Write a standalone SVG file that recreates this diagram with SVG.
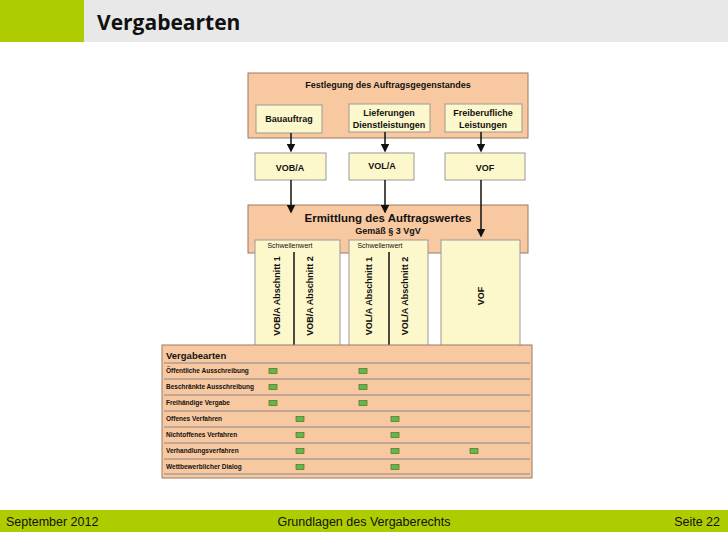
<svg xmlns="http://www.w3.org/2000/svg" width="728" height="546" viewBox="0 0 728 546">
<style>
text{font-family:"Liberation Sans",Arial,sans-serif;font-weight:bold;fill:#111}
.o{fill:#f8c9a0;stroke:#9a7a60;stroke-width:1}
.y{fill:#fdf8cc;stroke:#999;stroke-width:1}
.s{font-size:9px;text-anchor:middle}
.r{font-size:6.5px}
.l{stroke:#888;stroke-width:1}
.c{fill:#6bb34a;stroke:#3d7a2a;stroke-width:0.7}
.a{stroke:#111;stroke-width:1.5;fill:none;marker-end:url(#ah)}
</style>
<defs><marker id="ah" markerWidth="6" markerHeight="6" refX="5" refY="3" orient="auto"><path d="M0,0 L6,3 L0,6 z" fill="#111"/></marker>
<g id="ck"><rect class="c" x="-4" y="-2.5" width="8" height="5"/></g></defs>
<rect x="0" y="0" width="728" height="42" fill="#e8e8e8"/>
<rect x="0" y="0" width="84" height="42" fill="#aecc00"/>
<text x="97" y="30" style="font-family:'Open Sans','DejaVu Sans',sans-serif;font-size:21px">Vergabearten</text>
<rect x="0" y="510" width="728" height="22" fill="#aecc00"/>
<g style="font-family:'Open Sans','DejaVu Sans',sans-serif;font-size:12.5px;font-weight:normal">
<text x="6" y="526" style="font-weight:normal">September 2012</text>
<text x="364" y="526" text-anchor="middle" style="font-weight:normal">Grundlagen des Vergaberechts</text>
<text x="720" y="526" text-anchor="end" style="font-weight:normal">Seite 22</text></g>
<g id="top"><rect class="o" x="248" y="73" width="280" height="65"/>
<text class="s" x="388" y="88">Festlegung des Auftragsgegenstandes</text>
<rect class="y" x="256" y="105" width="66" height="28"/><text class="s" x="289" y="122">Bauauftrag</text>
<rect class="y" x="349" y="104" width="81" height="28"/><text class="s" x="389" y="116">Lieferungen</text><text class="s" x="389" y="128">Dienstleistungen</text>
<rect class="y" x="445" y="104" width="77" height="28"/><text class="s" x="483" y="116">Freiberufliche</text><text class="s" x="483" y="128">Leistungen</text></g>
<g id="vob"><rect class="y" x="255" y="153" width="71" height="27"/><text class="s" x="290" y="171">VOB/A</text></g>
<g id="vol"><rect class="y" x="349" y="153" width="65" height="27"/><text class="s" x="382" y="169">VOL/A</text></g>
<g id="vof"><rect class="y" x="445" y="153" width="80" height="27"/><text class="s" x="485" y="171">VOF</text></g>
<g id="erm"><rect class="o" x="248" y="205" width="280" height="48"/>
<text x="388" y="222" text-anchor="middle" font-size="11.5">Ermittlung des Auftragswertes</text>
<text class="s" x="388" y="234" font-size="7">Gemäß § 3 VgV</text></g>
<g id="c1"><rect class="y" x="255" y="240" width="85" height="107"/>
<text x="290" y="248" font-size="7" text-anchor="middle" style="font-weight:normal">Schwellenwert</text>
<line x1="294" y1="252" x2="294" y2="346" stroke="#111" stroke-width="1.5"/>
<text class="s" transform="translate(280,296) rotate(-90)">VOB/A  Abschnitt 1</text>
<text class="s" transform="translate(313,296) rotate(-90)">VOB/A  Abschnitt 2</text></g>
<g id="c2"><rect class="y" x="349" y="240" width="79" height="107"/>
<text x="380" y="248" font-size="7" text-anchor="middle" style="font-weight:normal">Schwellenwert</text>
<line x1="389" y1="252" x2="389" y2="346" stroke="#111" stroke-width="1.5"/>
<text class="s" transform="translate(372,296) rotate(-90)">VOL/A  Abschnitt 1</text>
<text class="s" transform="translate(408,296) rotate(-90)">VOL/A  Abschnitt 2</text></g>
<g id="c3"><rect class="y" x="441" y="240" width="79" height="107"/>
<text class="s" transform="translate(484,296) rotate(-90)">VOF</text></g>
<g id="connectors">
<line class="a" x1="291" y1="133" x2="291" y2="151"/>
<line class="a" x1="385" y1="132" x2="385" y2="151"/>
<line class="a" x1="481" y1="132" x2="481" y2="151"/>
<line class="a" x1="291" y1="180" x2="291" y2="212"/>
<line class="a" x1="385" y1="180" x2="385" y2="212"/>
<line class="a" x1="481" y1="180" x2="481" y2="236"/>
</g>
<g id="table"><rect class="o" x="162" y="345" width="370" height="133"/>
<text x="166" y="359" font-size="9.5">Vergabearten</text>
<g class="l"><line x1="164" y1="363" x2="530" y2="363"/><line x1="164" y1="379" x2="530" y2="379"/><line x1="164" y1="395" x2="530" y2="395"/><line x1="164" y1="411" x2="530" y2="411"/><line x1="164" y1="427" x2="530" y2="427"/><line x1="164" y1="443" x2="530" y2="443"/><line x1="164" y1="459" x2="530" y2="459"/><line x1="164" y1="474" x2="530" y2="474"/></g>
<text class="r" x="166" y="373">Öffentliche Ausschreibung</text>
<text class="r" x="166" y="389">Beschränkte Ausschreibung</text>
<text class="r" x="166" y="405">Freihändige Vergabe</text>
<text class="r" x="166" y="421">Offenes Verfahren</text>
<text class="r" x="166" y="437">Nichtoffenes Verfahren</text>
<text class="r" x="166" y="453">Verhandlungsverfahren</text>
<text class="r" x="166" y="469">Wettbewerblicher Dialog</text>
<use href="#ck" x="273" y="371"/><use href="#ck" x="363" y="371"/>
<use href="#ck" x="273" y="387"/><use href="#ck" x="363" y="387"/>
<use href="#ck" x="273" y="403"/><use href="#ck" x="363" y="403"/>
<use href="#ck" x="300" y="419"/><use href="#ck" x="395" y="419"/>
<use href="#ck" x="300" y="435"/><use href="#ck" x="395" y="435"/>
<use href="#ck" x="300" y="451"/><use href="#ck" x="395" y="451"/><use href="#ck" x="474" y="451"/>
<use href="#ck" x="300" y="467"/><use href="#ck" x="395" y="467"/>
</g>
</svg>
